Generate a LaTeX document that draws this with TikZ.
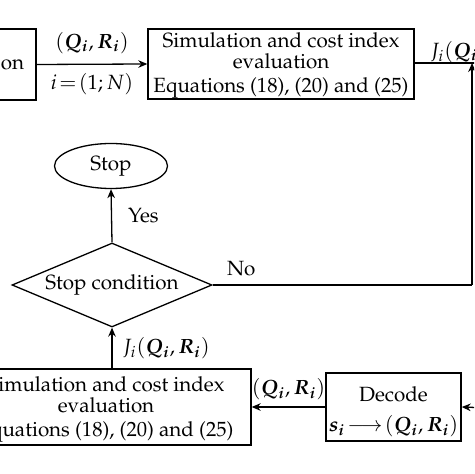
\documentclass[tikz,border=0pt]{standalone}
\usepackage[T1]{fontenc}
\usepackage{mathpazo}
\usepackage{bm}
\usetikzlibrary{shapes.geometric,arrows.meta}
\begin{document}
\begin{tikzpicture}[x=0.5pt,y=-0.5pt,
  font=\fontsize{10.3}{10.5}\selectfont,
  box/.style={draw, line width=0.7pt, rectangle, inner sep=0pt, align=center},
  conn/.style={line width=0.65pt},
  arr/.style={conn, -{Stealth[length=4.5pt,width=3.8pt]}},
  lbl/.style={inner sep=1pt}]
\useasboundingbox (0,0) rectangle (474,474);
\clip (0,0) rectangle (474,474);
% nodes
\node[box, minimum width=68pt, minimum height=35.5pt, text width=56pt, align=right, inner xsep=6pt] (init) at (-32,64.5) {on};
\node[box, minimum width=133pt, minimum height=35pt] (simA) at (281,64) {};
\node[align=center, inner sep=0pt] (simAtext) at (281,65) {Simulation and cost index\\evaluation\\[1.5pt]Equations (18), (20) and (25)};
\node[ellipse, draw, line width=0.65pt, minimum width=56.5pt, minimum height=22.5pt, inner sep=0pt] (stop) at (111,166) {Stop};
\node[diamond, draw, line width=0.65pt, aspect=2.38, inner sep=0pt, minimum width=100pt, minimum height=42pt] (cond) at (112,285) {Stop condition};
\node[box, minimum width=145pt, minimum height=38pt] (simB) at (106,407) {};
\node[align=center, inner sep=0pt] (simBtext) at (106,409) {Simulation and cost index\\evaluation\\[1.5pt]Equations (18), (20) and (25)};
\node[box, minimum width=67.5pt, minimum height=34pt] (dec) at (393.5,407) {};
\node[align=center, inner sep=0pt] (dectext) at (393.5,411.5) {Decode\\[4.5pt]$\bm{s_i}\!\longrightarrow\!(\bm{Q_i},\bm{R_i})$};
% coordinates
\coordinate (outR) at (490,63);
\coordinate (corner) at (472,285);
\coordinate (joinpt) at (472,63);
\coordinate (inR) at (490,408);
% connectors
\draw[arr] (init.east) -- (simA.west)
  node[midway, above=4pt, lbl] {$(\bm{Q_i},\bm{R_i})$}
  node[midway, below=3pt, lbl] {$i\!=\!(1;N)$};
\draw[conn] (simA.east |- joinpt) -- (outR);
\node[anchor=south west, lbl] (jtop) at (428,65) {$J_i(\bm{Q_i},\bm{R_i})$};
\draw[conn] (cond.east) -- (corner) node[pos=0.11, above=3pt, lbl] {No};
\draw[arr] (corner) -- (joinpt);
\draw[arr] (cond.north) -- (stop.south) node[midway, right=7pt, lbl] {Yes};
\draw[arr] (cond.south |- simB.north) -- (cond.south) node[midway, right=4pt, lbl] {$J_i(\bm{Q_i},\bm{R_i})$};
\draw[arr] (dec.west) -- (simB.east) node[midway, above=2pt, lbl] {$(\bm{Q_i},\bm{R_i})$};
\draw[arr] (inR) -- (dec.east);
\end{tikzpicture}
\end{document}
